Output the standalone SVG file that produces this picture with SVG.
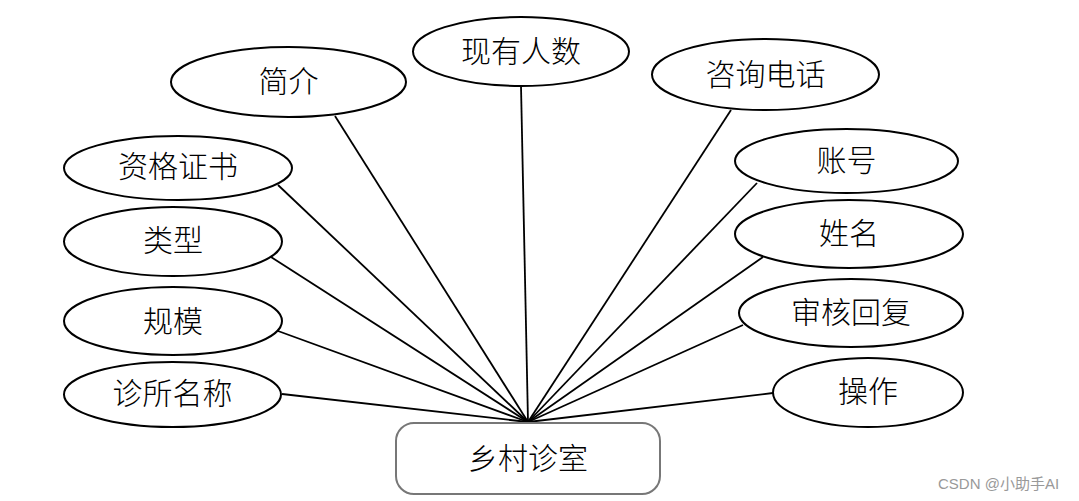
<svg xmlns="http://www.w3.org/2000/svg" width="1079" height="501" viewBox="0 0 1079 501">
<style>
.attr{fill:#fff;stroke:#000;stroke-width:2}
.ent{fill:#fff;stroke:#777;stroke-width:2}
.lbl{font-family:"Liberation Serif","Noto Sans CJK SC",serif;font-size:30px;font-weight:300;fill:#000;text-anchor:middle;dominant-baseline:central}
.conn line{stroke:#000;stroke-width:1.8}
.wm{font-family:"Liberation Sans","Noto Sans CJK SC",sans-serif;font-size:15px;fill:#999}
</style>
<rect width="1079" height="501" fill="#fff"/>
<g id="connectors" class="conn">
<line x1="528" y1="422" x2="335" y2="116"/>
<line x1="528" y1="422" x2="521" y2="86"/>
<line x1="528" y1="422" x2="731" y2="110"/>
<line x1="528" y1="422" x2="757" y2="183"/>
<line x1="528" y1="422" x2="278" y2="185"/>
<line x1="528" y1="422" x2="271" y2="257"/>
<line x1="528" y1="422" x2="278" y2="331"/>
<line x1="528" y1="422" x2="282" y2="394"/>
<line x1="528" y1="422" x2="763" y2="257"/>
<line x1="528" y1="422" x2="743" y2="325"/>
<line x1="528" y1="422" x2="773" y2="393"/>
</g>
<g id="n_jianjie"><ellipse class="attr" cx="288.5" cy="82" rx="117.5" ry="35"/><text class="lbl" x="288.5" y="81">简介</text></g>
<g id="n_xianyourenshu"><ellipse class="attr" cx="521" cy="51.5" rx="108" ry="34.5"/><text class="lbl" x="521" y="51">现有人数</text></g>
<g id="n_zixundianhua"><ellipse class="attr" cx="765.5" cy="74.5" rx="113.5" ry="35.5"/><text class="lbl" x="765.5" y="74">咨询电话</text></g>
<g id="n_zhanghao"><ellipse class="attr" cx="846.5" cy="161" rx="111.5" ry="32"/><text class="lbl" x="846.5" y="160">账号</text></g>
<g id="n_zigezhengshu"><ellipse class="attr" cx="178" cy="168" rx="114" ry="32"/><text class="lbl" x="178" y="166">资格证书</text></g>
<g id="n_leixing"><ellipse class="attr" cx="173" cy="241.5" rx="109" ry="34.5"/><text class="lbl" x="173" y="240">类型</text></g>
<g id="n_guimo"><ellipse class="attr" cx="173" cy="321" rx="109" ry="34"/><text class="lbl" x="173" y="321">规模</text></g>
<g id="n_zhensuomingcheng"><ellipse class="attr" cx="172.5" cy="394.5" rx="108.5" ry="32.5"/><text class="lbl" x="172.5" y="393">诊所名称</text></g>
<g id="n_xingming"><ellipse class="attr" cx="849" cy="234" rx="114" ry="34"/><text class="lbl" x="849" y="233">姓名</text></g>
<g id="n_shenhehuifu"><ellipse class="attr" cx="851" cy="313" rx="112" ry="34"/><text class="lbl" x="851" y="312">审核回复</text></g>
<g id="n_caozuo"><ellipse class="attr" cx="868" cy="392.5" rx="95" ry="34.5"/><text class="lbl" x="868" y="391">操作</text></g>
<g id="n_xiangcunzhenshi"><rect class="ent" x="396" y="423" width="264" height="71" rx="18"/><text class="lbl" x="528" y="458">乡村诊室</text></g>
<text class="wm" x="938" y="489">CSDN @小助手AI</text>
</svg>
